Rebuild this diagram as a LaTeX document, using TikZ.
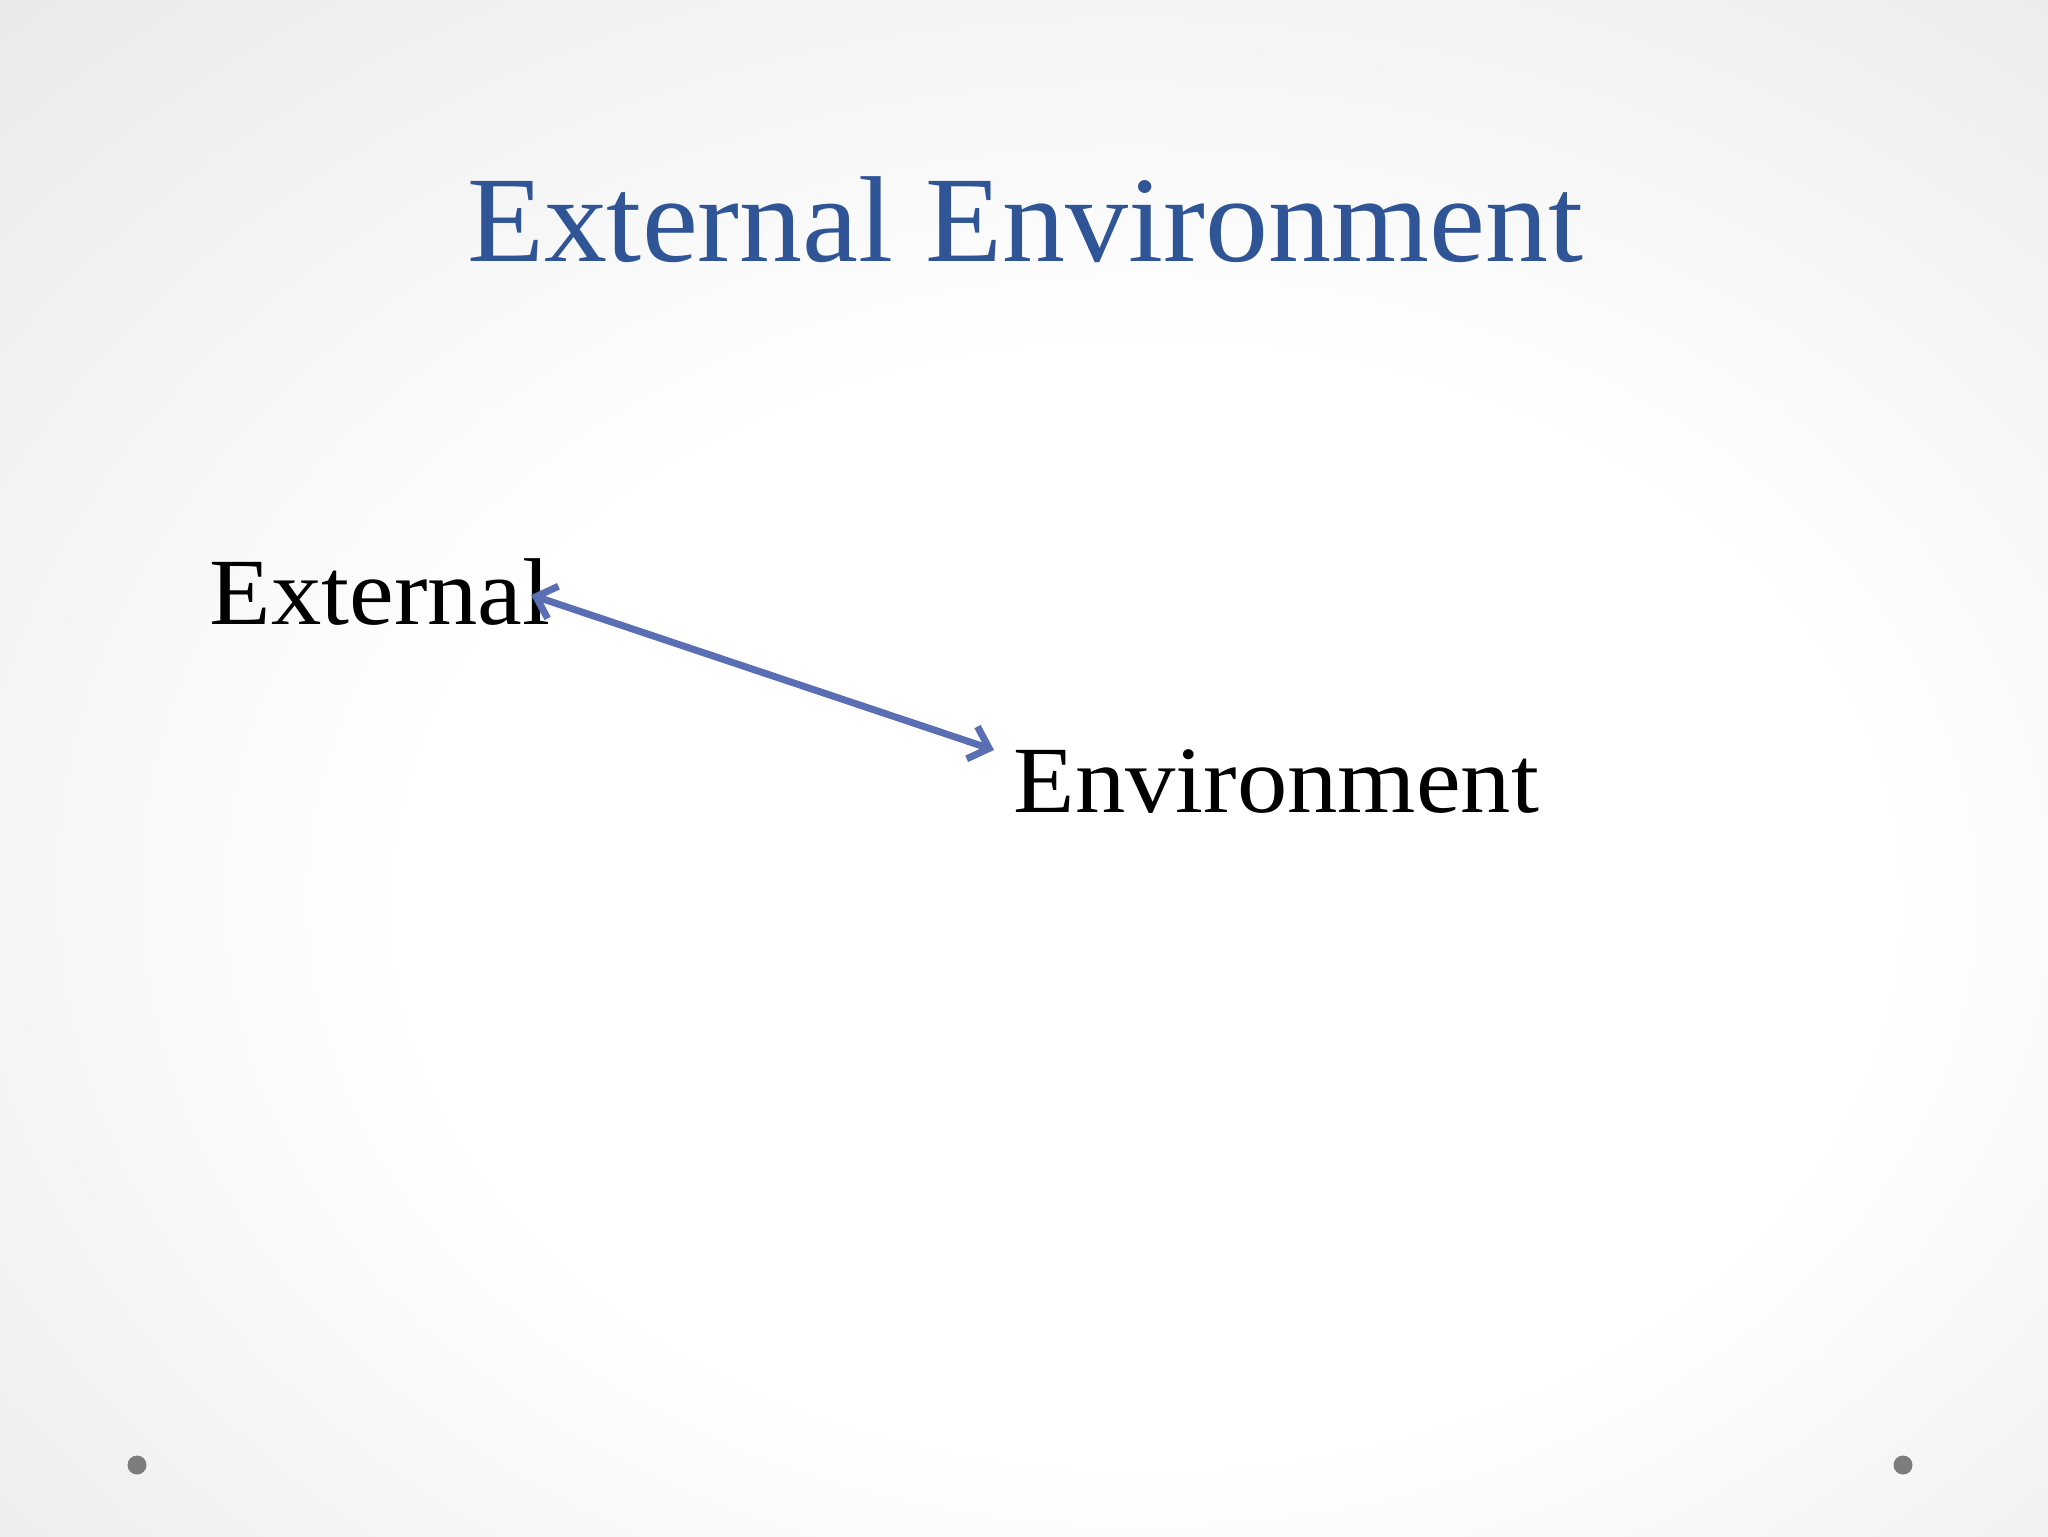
\documentclass[tikz,border=0pt]{standalone}
\usepackage{fontspec}
\setmainfont[FakeStretch=1.06]{Liberation Serif}
\newfontfamily\titlefont[FakeStretch=1.03]{Liberation Serif}
\usepackage{tikz}
\usetikzlibrary{arrows.meta,calc}
\definecolor{titleblue}{RGB}{47,85,151}
\definecolor{arrowblue}{RGB}{90,110,180}
\definecolor{dotgray}{RGB}{125,125,125}
\pgfdeclareradialshading{slidebg}{\pgfpoint{4bp}{-6bp}}{color(0bp)=(white);color(18bp)=(white);color(50bp)=(black!13);color(72bp)=(black!24)}
\tikzset{
  word/.style={font=\fontsize{27pt}{30pt}\selectfont,inner sep=0pt},
  link/.style={{Straight Barb[length=1.8mm,width=3.4mm]}-{Straight Barb[length=1.8mm,width=3.4mm]},line width=0.7mm,arrowblue}
}
\begin{document}
\begin{tikzpicture}[x=0.1mm,y=-0.1mm]
%slide background
\useasboundingbox(0,0)rectangle(2048,1536);
\shade[shading=slidebg](0,0)rectangle(2048,1536);
%title
\node[font=\titlefont\fontsize{34.8pt}{40pt}\selectfont,text=titleblue,inner sep=0pt,anchor=base](title)at(1025,261){External Environment};
%words
\node[word,anchor=base west](ext)at(209,624){External};
\node[word,anchor=base west](env)at(1013,812){Environment};
%arrow
\coordinate(extend)at($(ext.base east)+(-20,-29)$);
\coordinate(envend)at($(env.base west)+(-19,-62)$);
\draw[link](extend)--(envend);
%dots
\fill[dotgray](137,1465)circle[radius=0.95mm];
\fill[dotgray](1903,1465)circle[radius=0.95mm];
\end{tikzpicture}
\end{document}
